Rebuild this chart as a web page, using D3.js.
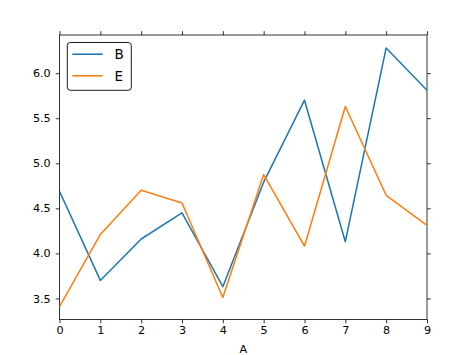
<!DOCTYPE html>
<html>
<head>
<meta charset="utf-8">
<script src="https://cdn.jsdelivr.net/npm/d3@7"></script>
<style>
  body { margin: 0; background: #fff; }
  svg { display: block; font-family: "DejaVu Sans", sans-serif; }
</style>
</head>
<body>
<svg id="chart" width="474" height="355"></svg>
<script>
const xValues = [0, 1, 2, 3, 4, 5, 6, 7, 8, 9];
const seriesB = [4.69, 3.70, 4.16, 4.45, 3.63, 4.79, 5.70, 4.13, 6.28, 5.81];
const seriesE = [3.41, 4.21, 4.70, 4.56, 3.51, 4.875, 4.08, 5.63, 4.645, 4.31];
const seriesNames = ["B", "E"];
const xTicks = [0, 1, 2, 3, 4, 5, 6, 7, 8, 9];
const yTicks = [3.5, 4.0, 4.5, 5.0, 5.5, 6.0];
const xLabel = "A";

const colors = ["#1f77b4", "#ff7f0e"];
const svg = d3.select("#chart");
const m = { left: 59.5, right: 427, top: 35, bottom: 319.5 };

const allVals = seriesB.concat(seriesE);
const lo = d3.min(allVals), hi = d3.max(allVals), pad = (hi - lo) * 0.05;

const x = d3.scaleLinear().domain([0, 9]).range([m.left, m.right]);
const y = d3.scaleLinear().domain([lo - pad, hi + pad]).range([m.bottom, m.top]);

const tickLen = 3.8;
const fmt = d3.format(".1f");
const fs = 11.2;

// Axes
const gx = svg.append("g").attr("transform", `translate(0,${m.bottom})`)
  .call(d3.axisBottom(x).tickValues(xTicks).tickFormat(d3.format("d")).tickSize(tickLen).tickPadding(3.2));
const gxt = svg.append("g").attr("transform", `translate(0,${m.top})`)
  .call(d3.axisTop(x).tickValues(xTicks).tickFormat("").tickSize(tickLen));
const gy = svg.append("g").attr("transform", `translate(${m.left},0)`)
  .call(d3.axisLeft(y).tickValues(yTicks).tickFormat(fmt).tickSize(tickLen).tickPadding(5));
const gyr = svg.append("g").attr("transform", `translate(${m.right},0)`)
  .call(d3.axisRight(y).tickValues(yTicks).tickFormat("").tickSize(tickLen));

[gx, gxt, gy, gyr].forEach(g => {
  g.select(".domain").remove();
  g.selectAll(".tick line").attr("stroke", "#000").attr("stroke-width", 0.8);
  g.selectAll("text").attr("fill", "#000").attr("font-size", fs).attr("font-family", "DejaVu Sans, sans-serif");
});

// Frame
svg.append("rect").attr("x", m.left).attr("y", m.top)
  .attr("width", m.right - m.left).attr("height", m.bottom - m.top)
  .attr("fill", "none").attr("stroke", "#000").attr("stroke-width", 0.8);

// Lines
const line = d3.line().x((d, i) => x(xValues[i])).y(d => y(d));
const clipId = "clip";
svg.append("clipPath").attr("id", clipId).append("rect")
  .attr("x", m.left).attr("y", m.top).attr("width", m.right - m.left).attr("height", m.bottom - m.top);
[seriesB, seriesE].forEach((s, k) => {
  svg.append("path").datum(s).attr("d", line)
    .attr("fill", "none").attr("stroke", colors[k]).attr("stroke-width", 1.55)
    .attr("stroke-linejoin", "round").attr("clip-path", `url(#${clipId})`);
});

// X label
svg.append("text").attr("x", (m.left + m.right) / 2).attr("y", 352.5)
  .attr("text-anchor", "middle").attr("font-size", fs).attr("fill", "#000").text(xLabel);

// Legend
const lg = svg.append("g");
lg.append("rect").attr("x", 67.3).attr("y", 42.5).attr("width", 64).attr("height", 47.8)
  .attr("rx", 3).attr("fill", "#fff").attr("fill-opacity", 0.8)
  .attr("stroke", "#000").attr("stroke-width", 0.9);
seriesNames.forEach((n, k) => {
  const yy = 54.2 + k * 21.6;
  lg.append("line").attr("x1", 72.3).attr("x2", 102.7).attr("y1", yy).attr("y2", yy)
    .attr("stroke", colors[k]).attr("stroke-width", 1.55);
  lg.append("text").attr("x", 114.5).attr("y", yy).attr("dy", "0.36em")
    .attr("font-size", 13.5).attr("fill", "#000").text(n);
});
</script>
</body>
</html>
